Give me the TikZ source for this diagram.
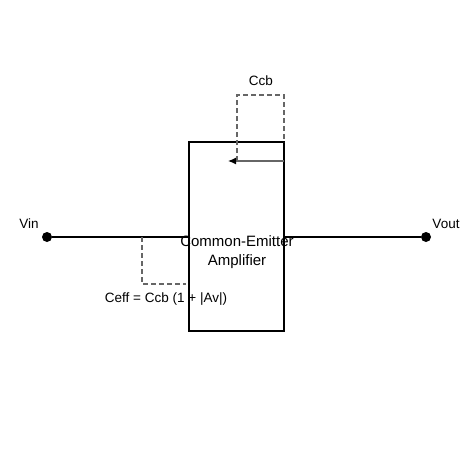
\documentclass[tikz,border=0pt]{standalone}
\usepackage{fontspec}
\setmainfont{Liberation Sans}
\usetikzlibrary{arrows.meta}
\begin{document}
\begin{tikzpicture}[x=1pt,y=-1pt,
  wire/.style={line width=1.6pt,black},
  dashline/.style={dashed,dash pattern=on 5pt off 3pt,line width=1.3pt,gray!80!black},
  lbl/.style={font=\fontsize{13.5}{15}\selectfont,inner sep=0pt},
  terminal/.style={circle,fill=black,minimum size=10pt,inner sep=0pt}]
\useasboundingbox[fill=white] (0,0) rectangle (474,474);
\node[draw,line width=1.6pt,minimum width=95pt,minimum height=189pt,inner sep=0pt] (amp) at (236.5,236.5) {};
\node[font=\fontsize{15}{19}\selectfont,align=center,inner sep=0pt] (amptext) at (237,252) {Common-Emitter\\Amplifier};
\node[terminal] (vin) at (47,237) {};
\node[terminal] (vout) at (426,237) {};
\node[lbl] (vinl) at (29,224) {Vin};
\node[lbl] (voutl) at (446,224) {Vout};
\node[lbl] (ccbl) at (261,81) {Ccb};
\node[lbl] (ceffl) at (166,299) {Ceff = Ccb (1 + |Av|)};
\coordinate (inL) at (amp.west |- vin);
\coordinate (outR) at (amp.east |- vout);
\draw[wire] (vin) -- (inL);
\draw[wire] (outR) -- (vout);
\coordinate (c1) at (237,161);
\coordinate (c2) at (237,95);
\coordinate (c3) at (284,95);
\coordinate (c4) at (284,142);
\draw[dashline] (c1) -- (c2) -- (c3) -- (c4);
\coordinate (a1) at (284,161);
\coordinate (a2) at (228,161);
\draw[line width=1.2pt,gray!80!black,-{Latex[length=8pt,width=7pt,black]}] (a1) -- (a2);
\coordinate (d1) at (142,237);
\coordinate (d2) at (142,284);
\coordinate (d3) at (186,284);
\draw[dashline] (d1) -- (d2) -- (d3);
\end{tikzpicture}
\end{document}
